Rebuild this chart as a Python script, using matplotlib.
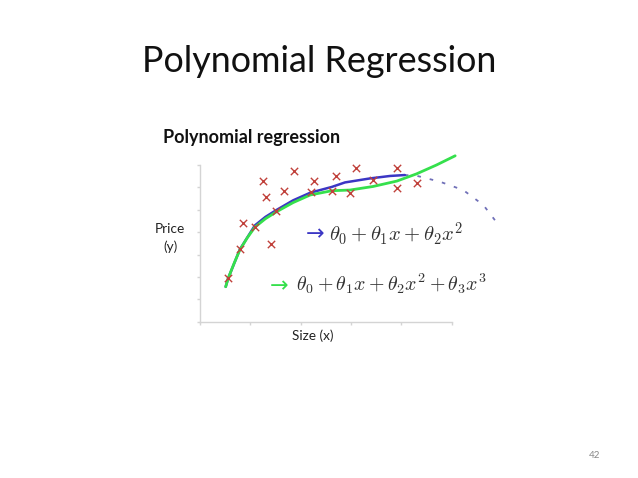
import matplotlib
matplotlib.use("Agg")
import matplotlib.pyplot as plt

# data points (size vs price)
x_pts = [0.56, 0.79, 0.86, 1.09, 1.26, 1.32, 1.41, 1.51, 1.66, 1.87,
         2.20, 2.27, 2.62, 2.70, 2.99, 3.10, 3.43, 3.91, 3.91, 4.32]
y_pts = [1.94, 3.23, 4.39, 4.24, 6.28, 5.56, 3.46, 4.94, 5.85, 6.73,
         5.78, 6.30, 5.85, 6.52, 5.76, 6.88, 6.33, 6.88, 5.98, 6.18]

# cubic fit curve (green)
green_x = [0.51, 0.56, 0.68, 0.79, 0.94, 1.09, 1.30, 1.52, 1.85, 2.19,
           2.62, 2.98, 3.44, 3.91, 4.30, 4.70, 5.07]
green_y = [1.56, 1.94, 2.62, 3.20, 3.75, 4.22, 4.60, 4.91, 5.32, 5.66,
           5.85, 5.88, 6.04, 6.28, 6.60, 7.00, 7.41]

# quadratic fit curve (blue), solid part and dotted continuation
blue_x = [0.51, 0.56, 0.79, 1.09, 1.30, 1.52, 1.85, 2.19, 2.62, 2.88, 3.38, 3.78, 4.07]
blue_y = [1.56, 1.94, 3.22, 4.30, 4.68, 4.99, 5.42, 5.76, 6.02, 6.22, 6.40, 6.51, 6.55]
blue_dash_x = [4.07, 4.30, 4.77, 5.23, 5.63, 5.96]
blue_dash_y = [6.55, 6.52, 6.25, 5.88, 5.21, 4.24]

x_ticks = [0, 1, 2, 3, 4, 5]
y_ticks = [0, 1, 2, 3, 4, 5, 6, 7]

plt.rcParams['mathtext.fontset'] = 'cm'

W, H = 638, 478
fig = plt.figure(figsize=(W / 100, H / 100), dpi=100)
fig.patch.set_facecolor('white')

def fx(px):
    return px / W

def fy(py):
    return 1 - py / H

# axes geometry in pixels
left_px, bottom_px = 200.0, 321.7
ux, uy = 50.33, 22.39
xmax, ymax = 6.3, 7.7
ax = fig.add_axes([fx(left_px), (H - bottom_px) / H, xmax * ux / W, ymax * uy / H])
ax.set_xlim(0, xmax)
ax.set_ylim(0, ymax)
ax.patch.set_alpha(0)
for s in ['top', 'right']:
    ax.spines[s].set_visible(False)
axis_col = '#d4d4d4'
ax.spines['left'].set_bounds(0, 7)
ax.spines['bottom'].set_bounds(0, 5)
ax.spines['left'].set_color(axis_col)
ax.spines['bottom'].set_color(axis_col)
ax.spines['left'].set_linewidth(1.0)
ax.spines['bottom'].set_linewidth(1.0)
ax.set_xticks(x_ticks)
ax.set_yticks(y_ticks)
ax.set_xticklabels([])
ax.set_yticklabels([])
ax.tick_params(axis='both', direction='out', length=2.5, width=1.0, color=axis_col)

ax.plot(blue_dash_x, blue_dash_y, color='#7070b8', lw=1.3, ls=(0, (2, 5)),
        clip_on=False)
ax.plot(blue_x, blue_y, color='#3b36c4', lw=1.8, clip_on=False,
        solid_capstyle='round')
ax.plot(green_x, green_y, color='#35e04c', lw=2.0, clip_on=False,
        solid_capstyle='round')
ax.scatter(x_pts, y_pts, marker='x', s=28, color='#c0403a', linewidths=1.0,
           zorder=3, clip_on=False)

# slide title
fig.text(fx(319), fy(62), 'Polynomial Regression', ha='center', va='center',
         fontsize=25.8, family='Lato', color='#111111')
# chart title
fig.text(fx(163), fy(137), 'Polynomial regression', ha='left', va='center',
         fontsize=13, family='Lato', fontweight='bold', color='#111111')
# axis labels
fig.text(fx(170), fy(238), 'Price\n(y)', ha='center', va='center',
         fontsize=9.8, family='Lato', color='#222222', linespacing=1.5)
fig.text(fx(313), fy(336), 'Size (x)', ha='center', va='center',
         fontsize=9.8, family='Lato', color='#222222')

# equations
fig.text(fx(306), fy(234), '\u2192', ha='left', va='center', fontsize=16,
         color='#3b36c4', family='DejaVu Sans')
fig.text(fx(329), fy(234), r'$\theta_0+\theta_1x+\theta_2x^2$', ha='left',
         va='center', fontsize=14.8, color='#333333')
fig.text(fx(270), fy(286), '\u2192', ha='left', va='center', fontsize=16,
         color='#35e04c', family='DejaVu Sans')
fig.text(fx(296), fy(284), r'$\theta_0+\theta_1x+\theta_2x^2+\theta_3x^3$',
         ha='left', va='center', fontsize=14.3, color='#333333')

# page number
fig.text(fx(595), fy(456), '42', ha='center', va='center', fontsize=7,
         family='Lato', color='#888888')

fig.savefig('out.png', dpi=100)
